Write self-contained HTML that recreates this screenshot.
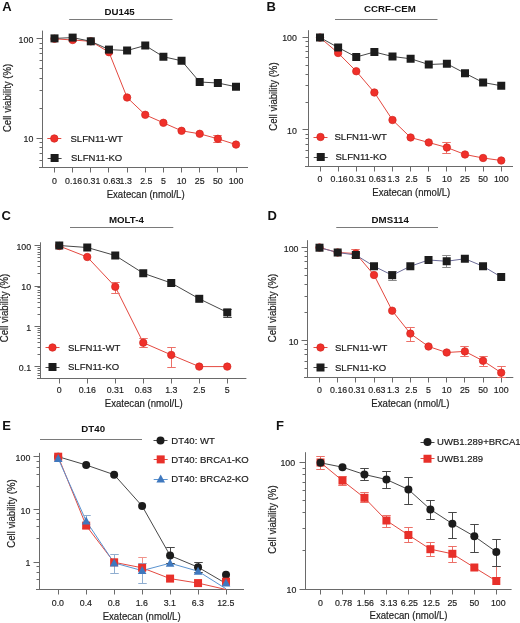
<!DOCTYPE html>
<html><head><meta charset="utf-8"><style>
html,body{margin:0;padding:0;background:#fff;}
svg{display:block;font-family:"Liberation Sans",sans-serif;filter:blur(0.35px);}
</style></head><body>
<svg width="520" height="623" viewBox="0 0 520 623">
<rect width="520" height="623" fill="#fff"/>
<text x="0" y="0" transform="translate(2.30,11.20) scale(1.000,1)" font-size="13.00" text-anchor="start" font-weight="bold" fill="#111" >A</text>
<text x="0" y="0" transform="translate(119.60,15.00) scale(1.000,1)" font-size="9.70" text-anchor="middle" font-weight="bold" fill="#111" >DU145</text>
<line x1="69.20" y1="19.50" x2="172.50" y2="19.50" stroke="#7a7a7a" stroke-width="1"/>
<line x1="42.50" y1="30.60" x2="42.50" y2="168.00" stroke="#6a6a6a" stroke-width="1"/>
<line x1="39.00" y1="167.50" x2="248.00" y2="167.50" stroke="#6a6a6a" stroke-width="1"/>
<line x1="36.50" y1="38.50" x2="42.50" y2="38.50" stroke="#6a6a6a" stroke-width="1"/>
<text x="0" y="0" transform="translate(33.30,42.81) scale(0.955,1)" font-size="9.24" text-anchor="end" fill="#1e1e1e" stroke="#1e1e1e" stroke-width="0.18" >100</text>
<line x1="36.50" y1="138.50" x2="42.50" y2="138.50" stroke="#6a6a6a" stroke-width="1"/>
<text x="0" y="0" transform="translate(33.30,142.31) scale(0.955,1)" font-size="9.24" text-anchor="end" fill="#1e1e1e" stroke="#1e1e1e" stroke-width="0.18" >10</text>
<line x1="39.50" y1="108.50" x2="42.50" y2="108.50" stroke="#6a6a6a" stroke-width="1"/>
<line x1="39.50" y1="90.50" x2="42.50" y2="90.50" stroke="#6a6a6a" stroke-width="1"/>
<line x1="39.50" y1="78.50" x2="42.50" y2="78.50" stroke="#6a6a6a" stroke-width="1"/>
<line x1="39.50" y1="68.50" x2="42.50" y2="68.50" stroke="#6a6a6a" stroke-width="1"/>
<line x1="39.50" y1="60.50" x2="42.50" y2="60.50" stroke="#6a6a6a" stroke-width="1"/>
<line x1="39.50" y1="53.50" x2="42.50" y2="53.50" stroke="#6a6a6a" stroke-width="1"/>
<line x1="39.50" y1="48.50" x2="42.50" y2="48.50" stroke="#6a6a6a" stroke-width="1"/>
<line x1="39.50" y1="43.50" x2="42.50" y2="43.50" stroke="#6a6a6a" stroke-width="1"/>
<line x1="39.50" y1="160.50" x2="42.50" y2="160.50" stroke="#6a6a6a" stroke-width="1"/>
<line x1="39.50" y1="153.50" x2="42.50" y2="153.50" stroke="#6a6a6a" stroke-width="1"/>
<line x1="39.50" y1="147.50" x2="42.50" y2="147.50" stroke="#6a6a6a" stroke-width="1"/>
<line x1="39.50" y1="142.50" x2="42.50" y2="142.50" stroke="#6a6a6a" stroke-width="1"/>
<line x1="54.50" y1="167.50" x2="54.50" y2="172.50" stroke="#6a6a6a" stroke-width="1"/>
<text x="0" y="0" transform="translate(54.50,183.76) scale(0.955,1)" font-size="9.24" text-anchor="middle" fill="#1e1e1e" stroke="#1e1e1e" stroke-width="0.18" >0</text>
<line x1="72.50" y1="167.50" x2="72.50" y2="172.50" stroke="#6a6a6a" stroke-width="1"/>
<text x="0" y="0" transform="translate(73.65,183.76) scale(0.955,1)" font-size="9.24" text-anchor="middle" fill="#1e1e1e" stroke="#1e1e1e" stroke-width="0.18" >0.16</text>
<line x1="90.50" y1="167.50" x2="90.50" y2="172.50" stroke="#6a6a6a" stroke-width="1"/>
<text x="0" y="0" transform="translate(91.80,183.76) scale(0.955,1)" font-size="9.24" text-anchor="middle" fill="#1e1e1e" stroke="#1e1e1e" stroke-width="0.18" >0.31</text>
<line x1="108.50" y1="167.50" x2="108.50" y2="172.50" stroke="#6a6a6a" stroke-width="1"/>
<text x="0" y="0" transform="translate(111.85,183.76) scale(0.955,1)" font-size="9.24" text-anchor="middle" fill="#1e1e1e" stroke="#1e1e1e" stroke-width="0.18" >0.63</text>
<line x1="127.50" y1="167.50" x2="127.50" y2="172.50" stroke="#6a6a6a" stroke-width="1"/>
<text x="0" y="0" transform="translate(125.70,183.76) scale(0.955,1)" font-size="9.24" text-anchor="middle" fill="#1e1e1e" stroke="#1e1e1e" stroke-width="0.18" >1.3</text>
<line x1="145.50" y1="167.50" x2="145.50" y2="172.50" stroke="#6a6a6a" stroke-width="1"/>
<text x="0" y="0" transform="translate(146.25,183.76) scale(0.955,1)" font-size="9.24" text-anchor="middle" fill="#1e1e1e" stroke="#1e1e1e" stroke-width="0.18" >2.5</text>
<line x1="163.50" y1="167.50" x2="163.50" y2="172.50" stroke="#6a6a6a" stroke-width="1"/>
<text x="0" y="0" transform="translate(163.40,183.76) scale(0.955,1)" font-size="9.24" text-anchor="middle" fill="#1e1e1e" stroke="#1e1e1e" stroke-width="0.18" >5</text>
<line x1="181.50" y1="167.50" x2="181.50" y2="172.50" stroke="#6a6a6a" stroke-width="1"/>
<text x="0" y="0" transform="translate(181.55,183.76) scale(0.955,1)" font-size="9.24" text-anchor="middle" fill="#1e1e1e" stroke="#1e1e1e" stroke-width="0.18" >10</text>
<line x1="199.50" y1="167.50" x2="199.50" y2="172.50" stroke="#6a6a6a" stroke-width="1"/>
<text x="0" y="0" transform="translate(199.70,183.76) scale(0.955,1)" font-size="9.24" text-anchor="middle" fill="#1e1e1e" stroke="#1e1e1e" stroke-width="0.18" >25</text>
<line x1="217.50" y1="167.50" x2="217.50" y2="172.50" stroke="#6a6a6a" stroke-width="1"/>
<text x="0" y="0" transform="translate(217.85,183.76) scale(0.955,1)" font-size="9.24" text-anchor="middle" fill="#1e1e1e" stroke="#1e1e1e" stroke-width="0.18" >50</text>
<line x1="236.50" y1="167.50" x2="236.50" y2="172.50" stroke="#6a6a6a" stroke-width="1"/>
<text x="0" y="0" transform="translate(236.00,183.76) scale(0.955,1)" font-size="9.24" text-anchor="middle" fill="#1e1e1e" stroke="#1e1e1e" stroke-width="0.18" >100</text>
<text x="0" y="0" transform="translate(145.65,198.49) scale(0.955,1)" font-size="10.08" text-anchor="middle" fill="#1e1e1e" stroke="#1e1e1e" stroke-width="0.18" >Exatecan (nmol/L)</text>
<text x="0" y="0" transform="translate(10.83,97.90) rotate(-90) scale(0.955,1)" font-size="10.08" text-anchor="middle" fill="#1e1e1e" stroke="#1e1e1e" stroke-width="0.18" >Cell viability (%)</text>
<polyline points="54.50,38.80 72.65,40.00 90.80,41.30 108.95,52.20 127.10,97.50 145.25,114.80 163.40,122.80 181.55,130.80 199.70,133.80 217.85,138.80 236.00,144.60" fill="none" stroke="#e4483f" stroke-width="1"/>
<polyline points="54.50,38.40 72.65,37.60 90.80,41.30 108.95,49.60 127.10,50.50 145.25,45.50 163.40,56.75 181.55,60.75 199.70,82.00 217.85,83.00 236.00,86.75" fill="none" stroke="#474747" stroke-width="1"/>
<line x1="217.50" y1="135.50" x2="217.50" y2="142.50" stroke="#ec7068" stroke-width="1"/>
<line x1="213.25" y1="135.50" x2="221.75" y2="135.50" stroke="#ec7068" stroke-width="1"/>
<line x1="213.25" y1="142.50" x2="221.75" y2="142.50" stroke="#ec7068" stroke-width="1"/>
<circle cx="54.50" cy="38.80" r="3.73" fill="#f0302a" stroke="#d2261f" stroke-width="0.7"/>
<circle cx="72.65" cy="40.00" r="3.73" fill="#f0302a" stroke="#d2261f" stroke-width="0.7"/>
<circle cx="90.80" cy="41.30" r="3.73" fill="#f0302a" stroke="#d2261f" stroke-width="0.7"/>
<circle cx="108.95" cy="52.20" r="3.73" fill="#f0302a" stroke="#d2261f" stroke-width="0.7"/>
<circle cx="127.10" cy="97.50" r="3.73" fill="#f0302a" stroke="#d2261f" stroke-width="0.7"/>
<circle cx="145.25" cy="114.80" r="3.73" fill="#f0302a" stroke="#d2261f" stroke-width="0.7"/>
<circle cx="163.40" cy="122.80" r="3.73" fill="#f0302a" stroke="#d2261f" stroke-width="0.7"/>
<circle cx="181.55" cy="130.80" r="3.73" fill="#f0302a" stroke="#d2261f" stroke-width="0.7"/>
<circle cx="199.70" cy="133.80" r="3.73" fill="#f0302a" stroke="#d2261f" stroke-width="0.7"/>
<circle cx="217.85" cy="138.80" r="3.73" fill="#f0302a" stroke="#d2261f" stroke-width="0.7"/>
<circle cx="236.00" cy="144.60" r="3.73" fill="#f0302a" stroke="#d2261f" stroke-width="0.7"/>
<rect x="50.50" y="34.40" width="8" height="8" fill="#1c1c1c"/>
<rect x="68.65" y="33.60" width="8" height="8" fill="#1c1c1c"/>
<rect x="86.80" y="37.30" width="8" height="8" fill="#1c1c1c"/>
<rect x="104.95" y="45.60" width="8" height="8" fill="#1c1c1c"/>
<rect x="123.10" y="46.50" width="8" height="8" fill="#1c1c1c"/>
<rect x="141.25" y="41.50" width="8" height="8" fill="#1c1c1c"/>
<rect x="159.40" y="52.75" width="8" height="8" fill="#1c1c1c"/>
<rect x="177.55" y="56.75" width="8" height="8" fill="#1c1c1c"/>
<rect x="195.70" y="78.00" width="8" height="8" fill="#1c1c1c"/>
<rect x="213.85" y="79.00" width="8" height="8" fill="#1c1c1c"/>
<rect x="232.00" y="82.75" width="8" height="8" fill="#1c1c1c"/>
<line x1="47.30" y1="138.50" x2="61.30" y2="138.50" stroke="#e4483f" stroke-width="1"/>
<circle cx="54.30" cy="138.50" r="3.73" fill="#f0302a" stroke="#d2261f" stroke-width="0.7"/>
<text x="0" y="0" transform="translate(70.50,141.80) scale(1.000,1)" font-size="9.55" text-anchor="start" fill="#1a1a1a" stroke="#1a1a1a" stroke-width="0.18" >SLFN11-WT</text>
<line x1="47.60" y1="158.50" x2="61.60" y2="158.50" stroke="#474747" stroke-width="1"/>
<rect x="50.60" y="154.00" width="8" height="8" fill="#1c1c1c"/>
<text x="0" y="0" transform="translate(71.00,161.30) scale(1.000,1)" font-size="9.55" text-anchor="start" fill="#1a1a1a" stroke="#1a1a1a" stroke-width="0.18" >SLFN11-KO</text>
<text x="0" y="0" transform="translate(266.60,11.00) scale(1.000,1)" font-size="13.00" text-anchor="start" font-weight="bold" fill="#111" >B</text>
<text x="0" y="0" transform="translate(389.90,11.90) scale(1.000,1)" font-size="9.70" text-anchor="middle" font-weight="bold" fill="#111" >CCRF-CEM</text>
<line x1="335.00" y1="19.50" x2="437.50" y2="19.50" stroke="#7a7a7a" stroke-width="1"/>
<line x1="308.50" y1="30.20" x2="308.50" y2="167.00" stroke="#6a6a6a" stroke-width="1"/>
<line x1="305.00" y1="166.50" x2="513.00" y2="166.50" stroke="#6a6a6a" stroke-width="1"/>
<line x1="302.50" y1="37.50" x2="308.50" y2="37.50" stroke="#6a6a6a" stroke-width="1"/>
<text x="0" y="0" transform="translate(296.90,41.01) scale(0.955,1)" font-size="9.24" text-anchor="end" fill="#1e1e1e" stroke="#1e1e1e" stroke-width="0.18" >100</text>
<line x1="302.50" y1="129.50" x2="308.50" y2="129.50" stroke="#6a6a6a" stroke-width="1"/>
<text x="0" y="0" transform="translate(296.90,134.11) scale(0.955,1)" font-size="9.24" text-anchor="end" fill="#1e1e1e" stroke="#1e1e1e" stroke-width="0.18" >10</text>
<line x1="305.50" y1="102.50" x2="308.50" y2="102.50" stroke="#6a6a6a" stroke-width="1"/>
<line x1="305.50" y1="85.50" x2="308.50" y2="85.50" stroke="#6a6a6a" stroke-width="1"/>
<line x1="305.50" y1="74.50" x2="308.50" y2="74.50" stroke="#6a6a6a" stroke-width="1"/>
<line x1="305.50" y1="65.50" x2="308.50" y2="65.50" stroke="#6a6a6a" stroke-width="1"/>
<line x1="305.50" y1="57.50" x2="308.50" y2="57.50" stroke="#6a6a6a" stroke-width="1"/>
<line x1="305.50" y1="51.50" x2="308.50" y2="51.50" stroke="#6a6a6a" stroke-width="1"/>
<line x1="305.50" y1="46.50" x2="308.50" y2="46.50" stroke="#6a6a6a" stroke-width="1"/>
<line x1="305.50" y1="41.50" x2="308.50" y2="41.50" stroke="#6a6a6a" stroke-width="1"/>
<line x1="305.50" y1="157.50" x2="308.50" y2="157.50" stroke="#6a6a6a" stroke-width="1"/>
<line x1="305.50" y1="150.50" x2="308.50" y2="150.50" stroke="#6a6a6a" stroke-width="1"/>
<line x1="305.50" y1="144.50" x2="308.50" y2="144.50" stroke="#6a6a6a" stroke-width="1"/>
<line x1="305.50" y1="138.50" x2="308.50" y2="138.50" stroke="#6a6a6a" stroke-width="1"/>
<line x1="305.50" y1="134.50" x2="308.50" y2="134.50" stroke="#6a6a6a" stroke-width="1"/>
<line x1="320.50" y1="166.50" x2="320.50" y2="171.50" stroke="#6a6a6a" stroke-width="1"/>
<text x="0" y="0" transform="translate(320.00,181.56) scale(0.955,1)" font-size="9.24" text-anchor="middle" fill="#1e1e1e" stroke="#1e1e1e" stroke-width="0.18" >0</text>
<line x1="338.50" y1="166.50" x2="338.50" y2="171.50" stroke="#6a6a6a" stroke-width="1"/>
<text x="0" y="0" transform="translate(339.12,181.56) scale(0.955,1)" font-size="9.24" text-anchor="middle" fill="#1e1e1e" stroke="#1e1e1e" stroke-width="0.18" >0.16</text>
<line x1="356.50" y1="166.50" x2="356.50" y2="171.50" stroke="#6a6a6a" stroke-width="1"/>
<text x="0" y="0" transform="translate(357.25,181.56) scale(0.955,1)" font-size="9.24" text-anchor="middle" fill="#1e1e1e" stroke="#1e1e1e" stroke-width="0.18" >0.31</text>
<line x1="374.50" y1="166.50" x2="374.50" y2="171.50" stroke="#6a6a6a" stroke-width="1"/>
<text x="0" y="0" transform="translate(377.27,181.56) scale(0.955,1)" font-size="9.24" text-anchor="middle" fill="#1e1e1e" stroke="#1e1e1e" stroke-width="0.18" >0.63</text>
<line x1="392.50" y1="166.50" x2="392.50" y2="171.50" stroke="#6a6a6a" stroke-width="1"/>
<text x="0" y="0" transform="translate(393.50,181.56) scale(0.955,1)" font-size="9.24" text-anchor="middle" fill="#1e1e1e" stroke="#1e1e1e" stroke-width="0.18" >1.3</text>
<line x1="410.50" y1="166.50" x2="410.50" y2="171.50" stroke="#6a6a6a" stroke-width="1"/>
<text x="0" y="0" transform="translate(411.62,181.56) scale(0.955,1)" font-size="9.24" text-anchor="middle" fill="#1e1e1e" stroke="#1e1e1e" stroke-width="0.18" >2.5</text>
<line x1="428.50" y1="166.50" x2="428.50" y2="171.50" stroke="#6a6a6a" stroke-width="1"/>
<text x="0" y="0" transform="translate(428.75,181.56) scale(0.955,1)" font-size="9.24" text-anchor="middle" fill="#1e1e1e" stroke="#1e1e1e" stroke-width="0.18" >5</text>
<line x1="446.50" y1="166.50" x2="446.50" y2="171.50" stroke="#6a6a6a" stroke-width="1"/>
<text x="0" y="0" transform="translate(446.88,181.56) scale(0.955,1)" font-size="9.24" text-anchor="middle" fill="#1e1e1e" stroke="#1e1e1e" stroke-width="0.18" >10</text>
<line x1="465.50" y1="166.50" x2="465.50" y2="171.50" stroke="#6a6a6a" stroke-width="1"/>
<text x="0" y="0" transform="translate(465.00,181.56) scale(0.955,1)" font-size="9.24" text-anchor="middle" fill="#1e1e1e" stroke="#1e1e1e" stroke-width="0.18" >25</text>
<line x1="483.50" y1="166.50" x2="483.50" y2="171.50" stroke="#6a6a6a" stroke-width="1"/>
<text x="0" y="0" transform="translate(483.12,181.56) scale(0.955,1)" font-size="9.24" text-anchor="middle" fill="#1e1e1e" stroke="#1e1e1e" stroke-width="0.18" >50</text>
<line x1="501.50" y1="166.50" x2="501.50" y2="171.50" stroke="#6a6a6a" stroke-width="1"/>
<text x="0" y="0" transform="translate(501.25,181.56) scale(0.955,1)" font-size="9.24" text-anchor="middle" fill="#1e1e1e" stroke="#1e1e1e" stroke-width="0.18" >100</text>
<text x="0" y="0" transform="translate(411.25,195.59) scale(0.955,1)" font-size="10.08" text-anchor="middle" fill="#1e1e1e" stroke="#1e1e1e" stroke-width="0.18" >Exatecan (nmol/L)</text>
<text x="0" y="0" transform="translate(276.63,96.60) rotate(-90) scale(0.955,1)" font-size="10.08" text-anchor="middle" fill="#1e1e1e" stroke="#1e1e1e" stroke-width="0.18" >Cell viability (%)</text>
<polyline points="320.00,37.60 338.12,53.00 356.25,71.25 374.38,92.50 392.50,120.00 410.62,137.50 428.75,142.50 446.88,147.50 465.00,154.50 483.12,158.00 501.25,160.50" fill="none" stroke="#e4483f" stroke-width="1"/>
<polyline points="320.00,37.50 338.12,47.50 356.25,57.00 374.38,52.00 392.50,56.50 410.62,58.75 428.75,64.50 446.88,63.75 465.00,73.25 483.12,82.50 501.25,85.75" fill="none" stroke="#474747" stroke-width="1"/>
<line x1="446.50" y1="142.50" x2="446.50" y2="153.50" stroke="#ec7068" stroke-width="1"/>
<line x1="442.25" y1="142.50" x2="450.75" y2="142.50" stroke="#ec7068" stroke-width="1"/>
<line x1="442.25" y1="153.50" x2="450.75" y2="153.50" stroke="#ec7068" stroke-width="1"/>
<circle cx="320.00" cy="37.60" r="3.73" fill="#f0302a" stroke="#d2261f" stroke-width="0.7"/>
<circle cx="338.12" cy="53.00" r="3.73" fill="#f0302a" stroke="#d2261f" stroke-width="0.7"/>
<circle cx="356.25" cy="71.25" r="3.73" fill="#f0302a" stroke="#d2261f" stroke-width="0.7"/>
<circle cx="374.38" cy="92.50" r="3.73" fill="#f0302a" stroke="#d2261f" stroke-width="0.7"/>
<circle cx="392.50" cy="120.00" r="3.73" fill="#f0302a" stroke="#d2261f" stroke-width="0.7"/>
<circle cx="410.62" cy="137.50" r="3.73" fill="#f0302a" stroke="#d2261f" stroke-width="0.7"/>
<circle cx="428.75" cy="142.50" r="3.73" fill="#f0302a" stroke="#d2261f" stroke-width="0.7"/>
<circle cx="446.88" cy="147.50" r="3.73" fill="#f0302a" stroke="#d2261f" stroke-width="0.7"/>
<circle cx="465.00" cy="154.50" r="3.73" fill="#f0302a" stroke="#d2261f" stroke-width="0.7"/>
<circle cx="483.12" cy="158.00" r="3.73" fill="#f0302a" stroke="#d2261f" stroke-width="0.7"/>
<circle cx="501.25" cy="160.50" r="3.73" fill="#f0302a" stroke="#d2261f" stroke-width="0.7"/>
<rect x="316.00" y="33.50" width="8" height="8" fill="#1c1c1c"/>
<rect x="334.12" y="43.50" width="8" height="8" fill="#1c1c1c"/>
<rect x="352.25" y="53.00" width="8" height="8" fill="#1c1c1c"/>
<rect x="370.38" y="48.00" width="8" height="8" fill="#1c1c1c"/>
<rect x="388.50" y="52.50" width="8" height="8" fill="#1c1c1c"/>
<rect x="406.62" y="54.75" width="8" height="8" fill="#1c1c1c"/>
<rect x="424.75" y="60.50" width="8" height="8" fill="#1c1c1c"/>
<rect x="442.88" y="59.75" width="8" height="8" fill="#1c1c1c"/>
<rect x="461.00" y="69.25" width="8" height="8" fill="#1c1c1c"/>
<rect x="479.12" y="78.50" width="8" height="8" fill="#1c1c1c"/>
<rect x="497.25" y="81.75" width="8" height="8" fill="#1c1c1c"/>
<line x1="313.50" y1="137.50" x2="327.50" y2="137.50" stroke="#e4483f" stroke-width="1"/>
<circle cx="320.50" cy="137.00" r="3.73" fill="#f0302a" stroke="#d2261f" stroke-width="0.7"/>
<text x="0" y="0" transform="translate(334.50,140.30) scale(1.000,1)" font-size="9.55" text-anchor="start" fill="#1a1a1a" stroke="#1a1a1a" stroke-width="0.18" >SLFN11-WT</text>
<line x1="313.75" y1="157.50" x2="327.75" y2="157.50" stroke="#474747" stroke-width="1"/>
<rect x="316.75" y="153.00" width="8" height="8" fill="#1c1c1c"/>
<text x="0" y="0" transform="translate(335.50,160.30) scale(1.000,1)" font-size="9.55" text-anchor="start" fill="#1a1a1a" stroke="#1a1a1a" stroke-width="0.18" >SLFN11-KO</text>
<text x="0" y="0" transform="translate(1.60,220.40) scale(1.000,1)" font-size="13.00" text-anchor="start" font-weight="bold" fill="#111" >C</text>
<text x="0" y="0" transform="translate(126.40,223.10) scale(1.000,1)" font-size="9.70" text-anchor="middle" font-weight="bold" fill="#111" >MOLT-4</text>
<line x1="70.00" y1="227.50" x2="173.30" y2="227.50" stroke="#7a7a7a" stroke-width="1"/>
<line x1="40.50" y1="242.30" x2="40.50" y2="379.00" stroke="#6a6a6a" stroke-width="1"/>
<line x1="37.00" y1="378.50" x2="246.40" y2="378.50" stroke="#6a6a6a" stroke-width="1"/>
<line x1="34.50" y1="245.50" x2="40.50" y2="245.50" stroke="#6a6a6a" stroke-width="1"/>
<text x="0" y="0" transform="translate(31.10,250.06) scale(0.955,1)" font-size="9.24" text-anchor="end" fill="#1e1e1e" stroke="#1e1e1e" stroke-width="0.18" >100</text>
<line x1="34.50" y1="286.50" x2="40.50" y2="286.50" stroke="#6a6a6a" stroke-width="1"/>
<text x="0" y="0" transform="translate(31.10,290.46) scale(0.955,1)" font-size="9.24" text-anchor="end" fill="#1e1e1e" stroke="#1e1e1e" stroke-width="0.18" >10</text>
<line x1="34.50" y1="326.50" x2="40.50" y2="326.50" stroke="#6a6a6a" stroke-width="1"/>
<text x="0" y="0" transform="translate(31.10,330.86) scale(0.955,1)" font-size="9.24" text-anchor="end" fill="#1e1e1e" stroke="#1e1e1e" stroke-width="0.18" >1</text>
<line x1="34.50" y1="366.50" x2="40.50" y2="366.50" stroke="#6a6a6a" stroke-width="1"/>
<text x="0" y="0" transform="translate(31.10,371.26) scale(0.955,1)" font-size="9.24" text-anchor="end" fill="#1e1e1e" stroke="#1e1e1e" stroke-width="0.18" >0.1</text>
<line x1="37.50" y1="273.50" x2="40.50" y2="273.50" stroke="#6a6a6a" stroke-width="1"/>
<line x1="37.50" y1="266.50" x2="40.50" y2="266.50" stroke="#6a6a6a" stroke-width="1"/>
<line x1="37.50" y1="261.50" x2="40.50" y2="261.50" stroke="#6a6a6a" stroke-width="1"/>
<line x1="37.50" y1="257.50" x2="40.50" y2="257.50" stroke="#6a6a6a" stroke-width="1"/>
<line x1="37.50" y1="254.50" x2="40.50" y2="254.50" stroke="#6a6a6a" stroke-width="1"/>
<line x1="37.50" y1="252.50" x2="40.50" y2="252.50" stroke="#6a6a6a" stroke-width="1"/>
<line x1="37.50" y1="249.50" x2="40.50" y2="249.50" stroke="#6a6a6a" stroke-width="1"/>
<line x1="37.50" y1="247.50" x2="40.50" y2="247.50" stroke="#6a6a6a" stroke-width="1"/>
<line x1="37.50" y1="314.50" x2="40.50" y2="314.50" stroke="#6a6a6a" stroke-width="1"/>
<line x1="37.50" y1="307.50" x2="40.50" y2="307.50" stroke="#6a6a6a" stroke-width="1"/>
<line x1="37.50" y1="302.50" x2="40.50" y2="302.50" stroke="#6a6a6a" stroke-width="1"/>
<line x1="37.50" y1="298.50" x2="40.50" y2="298.50" stroke="#6a6a6a" stroke-width="1"/>
<line x1="37.50" y1="295.50" x2="40.50" y2="295.50" stroke="#6a6a6a" stroke-width="1"/>
<line x1="37.50" y1="292.50" x2="40.50" y2="292.50" stroke="#6a6a6a" stroke-width="1"/>
<line x1="37.50" y1="290.50" x2="40.50" y2="290.50" stroke="#6a6a6a" stroke-width="1"/>
<line x1="37.50" y1="287.50" x2="40.50" y2="287.50" stroke="#6a6a6a" stroke-width="1"/>
<line x1="37.50" y1="354.50" x2="40.50" y2="354.50" stroke="#6a6a6a" stroke-width="1"/>
<line x1="37.50" y1="347.50" x2="40.50" y2="347.50" stroke="#6a6a6a" stroke-width="1"/>
<line x1="37.50" y1="342.50" x2="40.50" y2="342.50" stroke="#6a6a6a" stroke-width="1"/>
<line x1="37.50" y1="338.50" x2="40.50" y2="338.50" stroke="#6a6a6a" stroke-width="1"/>
<line x1="37.50" y1="335.50" x2="40.50" y2="335.50" stroke="#6a6a6a" stroke-width="1"/>
<line x1="37.50" y1="332.50" x2="40.50" y2="332.50" stroke="#6a6a6a" stroke-width="1"/>
<line x1="37.50" y1="330.50" x2="40.50" y2="330.50" stroke="#6a6a6a" stroke-width="1"/>
<line x1="37.50" y1="328.50" x2="40.50" y2="328.50" stroke="#6a6a6a" stroke-width="1"/>
<line x1="37.50" y1="375.50" x2="40.50" y2="375.50" stroke="#6a6a6a" stroke-width="1"/>
<line x1="37.50" y1="373.50" x2="40.50" y2="373.50" stroke="#6a6a6a" stroke-width="1"/>
<line x1="37.50" y1="370.50" x2="40.50" y2="370.50" stroke="#6a6a6a" stroke-width="1"/>
<line x1="37.50" y1="368.50" x2="40.50" y2="368.50" stroke="#6a6a6a" stroke-width="1"/>
<line x1="59.50" y1="378.50" x2="59.50" y2="383.50" stroke="#6a6a6a" stroke-width="1"/>
<text x="0" y="0" transform="translate(59.25,392.66) scale(0.955,1)" font-size="9.24" text-anchor="middle" fill="#1e1e1e" stroke="#1e1e1e" stroke-width="0.18" >0</text>
<line x1="87.50" y1="378.50" x2="87.50" y2="383.50" stroke="#6a6a6a" stroke-width="1"/>
<text x="0" y="0" transform="translate(87.25,392.66) scale(0.955,1)" font-size="9.24" text-anchor="middle" fill="#1e1e1e" stroke="#1e1e1e" stroke-width="0.18" >0.16</text>
<line x1="115.50" y1="378.50" x2="115.50" y2="383.50" stroke="#6a6a6a" stroke-width="1"/>
<text x="0" y="0" transform="translate(115.25,392.66) scale(0.955,1)" font-size="9.24" text-anchor="middle" fill="#1e1e1e" stroke="#1e1e1e" stroke-width="0.18" >0.31</text>
<line x1="143.50" y1="378.50" x2="143.50" y2="383.50" stroke="#6a6a6a" stroke-width="1"/>
<text x="0" y="0" transform="translate(143.25,392.66) scale(0.955,1)" font-size="9.24" text-anchor="middle" fill="#1e1e1e" stroke="#1e1e1e" stroke-width="0.18" >0.63</text>
<line x1="171.50" y1="378.50" x2="171.50" y2="383.50" stroke="#6a6a6a" stroke-width="1"/>
<text x="0" y="0" transform="translate(171.25,392.66) scale(0.955,1)" font-size="9.24" text-anchor="middle" fill="#1e1e1e" stroke="#1e1e1e" stroke-width="0.18" >1.3</text>
<line x1="199.50" y1="378.50" x2="199.50" y2="383.50" stroke="#6a6a6a" stroke-width="1"/>
<text x="0" y="0" transform="translate(199.25,392.66) scale(0.955,1)" font-size="9.24" text-anchor="middle" fill="#1e1e1e" stroke="#1e1e1e" stroke-width="0.18" >2.5</text>
<line x1="227.50" y1="378.50" x2="227.50" y2="383.50" stroke="#6a6a6a" stroke-width="1"/>
<text x="0" y="0" transform="translate(227.25,392.66) scale(0.955,1)" font-size="9.24" text-anchor="middle" fill="#1e1e1e" stroke="#1e1e1e" stroke-width="0.18" >5</text>
<text x="0" y="0" transform="translate(143.75,406.89) scale(0.955,1)" font-size="10.08" text-anchor="middle" fill="#1e1e1e" stroke="#1e1e1e" stroke-width="0.18" >Exatecan (nmol/L)</text>
<text x="0" y="0" transform="translate(7.93,308.00) rotate(-90) scale(0.955,1)" font-size="10.08" text-anchor="middle" fill="#1e1e1e" stroke="#1e1e1e" stroke-width="0.18" >Cell viability (%)</text>
<polyline points="59.25,246.00 87.25,257.00 115.25,286.75 143.25,342.70 171.25,354.90 199.25,366.60 227.25,366.60" fill="none" stroke="#e4483f" stroke-width="1"/>
<polyline points="59.25,245.50 87.25,247.50 115.25,255.50 143.25,273.25 171.25,283.00 199.25,298.80 227.25,312.40" fill="none" stroke="#474747" stroke-width="1"/>
<line x1="115.50" y1="282.50" x2="115.50" y2="293.50" stroke="#ec7068" stroke-width="1"/>
<line x1="111.25" y1="282.50" x2="119.75" y2="282.50" stroke="#ec7068" stroke-width="1"/>
<line x1="111.25" y1="293.50" x2="119.75" y2="293.50" stroke="#ec7068" stroke-width="1"/>
<line x1="143.50" y1="338.50" x2="143.50" y2="347.50" stroke="#ec7068" stroke-width="1"/>
<line x1="139.25" y1="338.50" x2="147.75" y2="338.50" stroke="#ec7068" stroke-width="1"/>
<line x1="139.25" y1="347.50" x2="147.75" y2="347.50" stroke="#ec7068" stroke-width="1"/>
<line x1="171.50" y1="347.50" x2="171.50" y2="367.50" stroke="#ec7068" stroke-width="1"/>
<line x1="167.25" y1="347.50" x2="175.75" y2="347.50" stroke="#ec7068" stroke-width="1"/>
<line x1="167.25" y1="367.50" x2="175.75" y2="367.50" stroke="#ec7068" stroke-width="1"/>
<line x1="227.50" y1="309.50" x2="227.50" y2="317.50" stroke="#474747" stroke-width="1"/>
<line x1="223.25" y1="309.50" x2="231.75" y2="309.50" stroke="#474747" stroke-width="1"/>
<line x1="223.25" y1="317.50" x2="231.75" y2="317.50" stroke="#474747" stroke-width="1"/>
<circle cx="59.25" cy="246.00" r="3.73" fill="#f0302a" stroke="#d2261f" stroke-width="0.7"/>
<circle cx="87.25" cy="257.00" r="3.73" fill="#f0302a" stroke="#d2261f" stroke-width="0.7"/>
<circle cx="115.25" cy="286.75" r="3.73" fill="#f0302a" stroke="#d2261f" stroke-width="0.7"/>
<circle cx="143.25" cy="342.70" r="3.73" fill="#f0302a" stroke="#d2261f" stroke-width="0.7"/>
<circle cx="171.25" cy="354.90" r="3.73" fill="#f0302a" stroke="#d2261f" stroke-width="0.7"/>
<circle cx="199.25" cy="366.60" r="3.73" fill="#f0302a" stroke="#d2261f" stroke-width="0.7"/>
<circle cx="227.25" cy="366.60" r="3.73" fill="#f0302a" stroke="#d2261f" stroke-width="0.7"/>
<rect x="55.25" y="241.50" width="8" height="8" fill="#1c1c1c"/>
<rect x="83.25" y="243.50" width="8" height="8" fill="#1c1c1c"/>
<rect x="111.25" y="251.50" width="8" height="8" fill="#1c1c1c"/>
<rect x="139.25" y="269.25" width="8" height="8" fill="#1c1c1c"/>
<rect x="167.25" y="279.00" width="8" height="8" fill="#1c1c1c"/>
<rect x="195.25" y="294.80" width="8" height="8" fill="#1c1c1c"/>
<rect x="223.25" y="308.40" width="8" height="8" fill="#1c1c1c"/>
<line x1="45.50" y1="347.50" x2="59.50" y2="347.50" stroke="#e4483f" stroke-width="1"/>
<circle cx="52.50" cy="347.50" r="3.73" fill="#f0302a" stroke="#d2261f" stroke-width="0.7"/>
<text x="0" y="0" transform="translate(68.00,350.80) scale(1.000,1)" font-size="9.55" text-anchor="start" fill="#1a1a1a" stroke="#1a1a1a" stroke-width="0.18" >SLFN11-WT</text>
<line x1="45.50" y1="367.50" x2="59.50" y2="367.50" stroke="#474747" stroke-width="1"/>
<rect x="48.50" y="363.00" width="8" height="8" fill="#1c1c1c"/>
<text x="0" y="0" transform="translate(68.00,370.30) scale(1.000,1)" font-size="9.55" text-anchor="start" fill="#1a1a1a" stroke="#1a1a1a" stroke-width="0.18" >SLFN11-KO</text>
<text x="0" y="0" transform="translate(267.50,220.30) scale(1.000,1)" font-size="13.00" text-anchor="start" font-weight="bold" fill="#111" >D</text>
<text x="0" y="0" transform="translate(390.20,223.10) scale(1.000,1)" font-size="9.70" text-anchor="middle" font-weight="bold" fill="#111" >DMS114</text>
<line x1="336.25" y1="227.50" x2="438.00" y2="227.50" stroke="#7a7a7a" stroke-width="1"/>
<line x1="307.50" y1="240.20" x2="307.50" y2="378.00" stroke="#6a6a6a" stroke-width="1"/>
<line x1="304.00" y1="377.50" x2="513.30" y2="377.50" stroke="#6a6a6a" stroke-width="1"/>
<line x1="301.50" y1="247.50" x2="307.50" y2="247.50" stroke="#6a6a6a" stroke-width="1"/>
<text x="0" y="0" transform="translate(298.50,251.81) scale(0.955,1)" font-size="9.24" text-anchor="end" fill="#1e1e1e" stroke="#1e1e1e" stroke-width="0.18" >100</text>
<line x1="301.50" y1="340.50" x2="307.50" y2="340.50" stroke="#6a6a6a" stroke-width="1"/>
<text x="0" y="0" transform="translate(298.50,344.81) scale(0.955,1)" font-size="9.24" text-anchor="end" fill="#1e1e1e" stroke="#1e1e1e" stroke-width="0.18" >10</text>
<line x1="304.50" y1="312.50" x2="307.50" y2="312.50" stroke="#6a6a6a" stroke-width="1"/>
<line x1="304.50" y1="296.50" x2="307.50" y2="296.50" stroke="#6a6a6a" stroke-width="1"/>
<line x1="304.50" y1="284.50" x2="307.50" y2="284.50" stroke="#6a6a6a" stroke-width="1"/>
<line x1="304.50" y1="275.50" x2="307.50" y2="275.50" stroke="#6a6a6a" stroke-width="1"/>
<line x1="304.50" y1="268.50" x2="307.50" y2="268.50" stroke="#6a6a6a" stroke-width="1"/>
<line x1="304.50" y1="261.50" x2="307.50" y2="261.50" stroke="#6a6a6a" stroke-width="1"/>
<line x1="304.50" y1="256.50" x2="307.50" y2="256.50" stroke="#6a6a6a" stroke-width="1"/>
<line x1="304.50" y1="251.50" x2="307.50" y2="251.50" stroke="#6a6a6a" stroke-width="1"/>
<line x1="304.50" y1="368.50" x2="307.50" y2="368.50" stroke="#6a6a6a" stroke-width="1"/>
<line x1="304.50" y1="361.50" x2="307.50" y2="361.50" stroke="#6a6a6a" stroke-width="1"/>
<line x1="304.50" y1="354.50" x2="307.50" y2="354.50" stroke="#6a6a6a" stroke-width="1"/>
<line x1="304.50" y1="349.50" x2="307.50" y2="349.50" stroke="#6a6a6a" stroke-width="1"/>
<line x1="304.50" y1="344.50" x2="307.50" y2="344.50" stroke="#6a6a6a" stroke-width="1"/>
<line x1="319.50" y1="377.50" x2="319.50" y2="382.50" stroke="#6a6a6a" stroke-width="1"/>
<text x="0" y="0" transform="translate(319.50,392.56) scale(0.955,1)" font-size="9.24" text-anchor="middle" fill="#1e1e1e" stroke="#1e1e1e" stroke-width="0.18" >0</text>
<line x1="337.50" y1="377.50" x2="337.50" y2="382.50" stroke="#6a6a6a" stroke-width="1"/>
<text x="0" y="0" transform="translate(338.67,392.56) scale(0.955,1)" font-size="9.24" text-anchor="middle" fill="#1e1e1e" stroke="#1e1e1e" stroke-width="0.18" >0.16</text>
<line x1="355.50" y1="377.50" x2="355.50" y2="382.50" stroke="#6a6a6a" stroke-width="1"/>
<text x="0" y="0" transform="translate(356.84,392.56) scale(0.955,1)" font-size="9.24" text-anchor="middle" fill="#1e1e1e" stroke="#1e1e1e" stroke-width="0.18" >0.31</text>
<line x1="374.50" y1="377.50" x2="374.50" y2="382.50" stroke="#6a6a6a" stroke-width="1"/>
<text x="0" y="0" transform="translate(376.91,392.56) scale(0.955,1)" font-size="9.24" text-anchor="middle" fill="#1e1e1e" stroke="#1e1e1e" stroke-width="0.18" >0.63</text>
<line x1="392.50" y1="377.50" x2="392.50" y2="382.50" stroke="#6a6a6a" stroke-width="1"/>
<text x="0" y="0" transform="translate(393.18,392.56) scale(0.955,1)" font-size="9.24" text-anchor="middle" fill="#1e1e1e" stroke="#1e1e1e" stroke-width="0.18" >1.3</text>
<line x1="410.50" y1="377.50" x2="410.50" y2="382.50" stroke="#6a6a6a" stroke-width="1"/>
<text x="0" y="0" transform="translate(411.35,392.56) scale(0.955,1)" font-size="9.24" text-anchor="middle" fill="#1e1e1e" stroke="#1e1e1e" stroke-width="0.18" >2.5</text>
<line x1="428.50" y1="377.50" x2="428.50" y2="382.50" stroke="#6a6a6a" stroke-width="1"/>
<text x="0" y="0" transform="translate(428.52,392.56) scale(0.955,1)" font-size="9.24" text-anchor="middle" fill="#1e1e1e" stroke="#1e1e1e" stroke-width="0.18" >5</text>
<line x1="446.50" y1="377.50" x2="446.50" y2="382.50" stroke="#6a6a6a" stroke-width="1"/>
<text x="0" y="0" transform="translate(446.69,392.56) scale(0.955,1)" font-size="9.24" text-anchor="middle" fill="#1e1e1e" stroke="#1e1e1e" stroke-width="0.18" >10</text>
<line x1="464.50" y1="377.50" x2="464.50" y2="382.50" stroke="#6a6a6a" stroke-width="1"/>
<text x="0" y="0" transform="translate(464.86,392.56) scale(0.955,1)" font-size="9.24" text-anchor="middle" fill="#1e1e1e" stroke="#1e1e1e" stroke-width="0.18" >25</text>
<line x1="483.50" y1="377.50" x2="483.50" y2="382.50" stroke="#6a6a6a" stroke-width="1"/>
<text x="0" y="0" transform="translate(483.03,392.56) scale(0.955,1)" font-size="9.24" text-anchor="middle" fill="#1e1e1e" stroke="#1e1e1e" stroke-width="0.18" >50</text>
<line x1="501.50" y1="377.50" x2="501.50" y2="382.50" stroke="#6a6a6a" stroke-width="1"/>
<text x="0" y="0" transform="translate(501.20,392.56) scale(0.955,1)" font-size="9.24" text-anchor="middle" fill="#1e1e1e" stroke="#1e1e1e" stroke-width="0.18" >100</text>
<text x="0" y="0" transform="translate(410.35,406.59) scale(0.955,1)" font-size="10.08" text-anchor="middle" fill="#1e1e1e" stroke="#1e1e1e" stroke-width="0.18" >Exatecan (nmol/L)</text>
<text x="0" y="0" transform="translate(275.63,308.00) rotate(-90) scale(0.955,1)" font-size="10.08" text-anchor="middle" fill="#1e1e1e" stroke="#1e1e1e" stroke-width="0.18" >Cell viability (%)</text>
<polyline points="319.50,247.50 337.67,252.50 355.84,253.50 374.01,275.00 392.18,310.70 410.35,333.60 428.52,346.50 446.69,352.50 464.86,351.40 483.03,360.80 501.20,372.70" fill="none" stroke="#e4483f" stroke-width="1"/>
<polyline points="319.50,247.70 337.67,252.50 355.84,255.00 374.01,266.25 392.18,275.20 410.35,266.25 428.52,260.00 446.69,261.25 464.86,258.75 483.03,266.25 501.20,277.00" fill="none" stroke="#6c6c98" stroke-width="1"/>
<line x1="355.50" y1="249.50" x2="355.50" y2="257.50" stroke="#ec7068" stroke-width="1"/>
<line x1="351.25" y1="249.50" x2="359.75" y2="249.50" stroke="#ec7068" stroke-width="1"/>
<line x1="351.25" y1="257.50" x2="359.75" y2="257.50" stroke="#ec7068" stroke-width="1"/>
<line x1="410.50" y1="327.50" x2="410.50" y2="341.50" stroke="#ec7068" stroke-width="1"/>
<line x1="406.25" y1="327.50" x2="414.75" y2="327.50" stroke="#ec7068" stroke-width="1"/>
<line x1="406.25" y1="341.50" x2="414.75" y2="341.50" stroke="#ec7068" stroke-width="1"/>
<line x1="464.50" y1="346.50" x2="464.50" y2="356.50" stroke="#ec7068" stroke-width="1"/>
<line x1="460.25" y1="346.50" x2="468.75" y2="346.50" stroke="#ec7068" stroke-width="1"/>
<line x1="460.25" y1="356.50" x2="468.75" y2="356.50" stroke="#ec7068" stroke-width="1"/>
<line x1="483.50" y1="356.50" x2="483.50" y2="366.50" stroke="#ec7068" stroke-width="1"/>
<line x1="479.25" y1="356.50" x2="487.75" y2="356.50" stroke="#ec7068" stroke-width="1"/>
<line x1="479.25" y1="366.50" x2="487.75" y2="366.50" stroke="#ec7068" stroke-width="1"/>
<line x1="501.50" y1="366.50" x2="501.50" y2="377.50" stroke="#ec7068" stroke-width="1"/>
<line x1="497.25" y1="366.50" x2="505.75" y2="366.50" stroke="#ec7068" stroke-width="1"/>
<line x1="497.25" y1="377.50" x2="505.75" y2="377.50" stroke="#ec7068" stroke-width="1"/>
<line x1="392.50" y1="271.50" x2="392.50" y2="280.50" stroke="#8a8a8a" stroke-width="1"/>
<line x1="388.25" y1="271.50" x2="396.75" y2="271.50" stroke="#8a8a8a" stroke-width="1"/>
<line x1="388.25" y1="280.50" x2="396.75" y2="280.50" stroke="#8a8a8a" stroke-width="1"/>
<line x1="446.50" y1="255.50" x2="446.50" y2="267.50" stroke="#8a8a8a" stroke-width="1"/>
<line x1="442.25" y1="255.50" x2="450.75" y2="255.50" stroke="#8a8a8a" stroke-width="1"/>
<line x1="442.25" y1="267.50" x2="450.75" y2="267.50" stroke="#8a8a8a" stroke-width="1"/>
<circle cx="319.50" cy="247.50" r="3.73" fill="#f0302a" stroke="#d2261f" stroke-width="0.7"/>
<circle cx="337.67" cy="252.50" r="3.73" fill="#f0302a" stroke="#d2261f" stroke-width="0.7"/>
<circle cx="355.84" cy="253.50" r="3.73" fill="#f0302a" stroke="#d2261f" stroke-width="0.7"/>
<circle cx="374.01" cy="275.00" r="3.73" fill="#f0302a" stroke="#d2261f" stroke-width="0.7"/>
<circle cx="392.18" cy="310.70" r="3.73" fill="#f0302a" stroke="#d2261f" stroke-width="0.7"/>
<circle cx="410.35" cy="333.60" r="3.73" fill="#f0302a" stroke="#d2261f" stroke-width="0.7"/>
<circle cx="428.52" cy="346.50" r="3.73" fill="#f0302a" stroke="#d2261f" stroke-width="0.7"/>
<circle cx="446.69" cy="352.50" r="3.73" fill="#f0302a" stroke="#d2261f" stroke-width="0.7"/>
<circle cx="464.86" cy="351.40" r="3.73" fill="#f0302a" stroke="#d2261f" stroke-width="0.7"/>
<circle cx="483.03" cy="360.80" r="3.73" fill="#f0302a" stroke="#d2261f" stroke-width="0.7"/>
<circle cx="501.20" cy="372.70" r="3.73" fill="#f0302a" stroke="#d2261f" stroke-width="0.7"/>
<rect x="315.50" y="243.70" width="8" height="8" fill="#1c1c1c"/>
<rect x="333.67" y="248.50" width="8" height="8" fill="#1c1c1c"/>
<rect x="351.84" y="251.00" width="8" height="8" fill="#1c1c1c"/>
<rect x="370.01" y="262.25" width="8" height="8" fill="#1c1c1c"/>
<rect x="388.18" y="271.20" width="8" height="8" fill="#1c1c1c"/>
<rect x="406.35" y="262.25" width="8" height="8" fill="#1c1c1c"/>
<rect x="424.52" y="256.00" width="8" height="8" fill="#1c1c1c"/>
<rect x="442.69" y="257.25" width="8" height="8" fill="#1c1c1c"/>
<rect x="460.86" y="254.75" width="8" height="8" fill="#1c1c1c"/>
<rect x="479.03" y="262.25" width="8" height="8" fill="#1c1c1c"/>
<rect x="497.20" y="273.00" width="8" height="8" fill="#1c1c1c"/>
<line x1="313.50" y1="347.50" x2="327.50" y2="347.50" stroke="#e4483f" stroke-width="1"/>
<circle cx="320.50" cy="347.50" r="3.73" fill="#f0302a" stroke="#d2261f" stroke-width="0.7"/>
<text x="0" y="0" transform="translate(335.00,350.80) scale(1.000,1)" font-size="9.55" text-anchor="start" fill="#1a1a1a" stroke="#1a1a1a" stroke-width="0.18" >SLFN11-WT</text>
<line x1="313.50" y1="367.50" x2="327.50" y2="367.50" stroke="#474747" stroke-width="1"/>
<rect x="316.50" y="363.50" width="8" height="8" fill="#1c1c1c"/>
<text x="0" y="0" transform="translate(335.00,370.80) scale(1.000,1)" font-size="9.55" text-anchor="start" fill="#1a1a1a" stroke="#1a1a1a" stroke-width="0.18" >SLFN11-KO</text>
<text x="0" y="0" transform="translate(2.30,429.70) scale(1.000,1)" font-size="13.00" text-anchor="start" font-weight="bold" fill="#111" >E</text>
<text x="0" y="0" transform="translate(93.20,432.30) scale(1.000,1)" font-size="9.70" text-anchor="middle" font-weight="bold" fill="#111" >DT40</text>
<line x1="40.00" y1="439.50" x2="142.00" y2="439.50" stroke="#7a7a7a" stroke-width="1"/>
<line x1="39.50" y1="452.90" x2="39.50" y2="590.00" stroke="#6a6a6a" stroke-width="1"/>
<line x1="36.00" y1="589.50" x2="244.00" y2="589.50" stroke="#6a6a6a" stroke-width="1"/>
<line x1="33.50" y1="456.50" x2="39.50" y2="456.50" stroke="#6a6a6a" stroke-width="1"/>
<text x="0" y="0" transform="translate(30.30,461.01) scale(0.955,1)" font-size="9.24" text-anchor="end" fill="#1e1e1e" stroke="#1e1e1e" stroke-width="0.18" >100</text>
<line x1="33.50" y1="509.50" x2="39.50" y2="509.50" stroke="#6a6a6a" stroke-width="1"/>
<text x="0" y="0" transform="translate(30.30,513.71) scale(0.955,1)" font-size="9.24" text-anchor="end" fill="#1e1e1e" stroke="#1e1e1e" stroke-width="0.18" >10</text>
<line x1="33.50" y1="562.50" x2="39.50" y2="562.50" stroke="#6a6a6a" stroke-width="1"/>
<text x="0" y="0" transform="translate(30.30,566.41) scale(0.955,1)" font-size="9.24" text-anchor="end" fill="#1e1e1e" stroke="#1e1e1e" stroke-width="0.18" >1</text>
<line x1="36.50" y1="461.50" x2="39.50" y2="461.50" stroke="#6a6a6a" stroke-width="1"/>
<line x1="36.50" y1="467.50" x2="39.50" y2="467.50" stroke="#6a6a6a" stroke-width="1"/>
<line x1="36.50" y1="474.50" x2="39.50" y2="474.50" stroke="#6a6a6a" stroke-width="1"/>
<line x1="36.50" y1="486.50" x2="39.50" y2="486.50" stroke="#6a6a6a" stroke-width="1"/>
<line x1="36.50" y1="513.50" x2="39.50" y2="513.50" stroke="#6a6a6a" stroke-width="1"/>
<line x1="36.50" y1="519.50" x2="39.50" y2="519.50" stroke="#6a6a6a" stroke-width="1"/>
<line x1="36.50" y1="526.50" x2="39.50" y2="526.50" stroke="#6a6a6a" stroke-width="1"/>
<line x1="36.50" y1="538.50" x2="39.50" y2="538.50" stroke="#6a6a6a" stroke-width="1"/>
<line x1="36.50" y1="566.50" x2="39.50" y2="566.50" stroke="#6a6a6a" stroke-width="1"/>
<line x1="36.50" y1="572.50" x2="39.50" y2="572.50" stroke="#6a6a6a" stroke-width="1"/>
<line x1="36.50" y1="579.50" x2="39.50" y2="579.50" stroke="#6a6a6a" stroke-width="1"/>
<line x1="58.50" y1="589.50" x2="58.50" y2="594.50" stroke="#6a6a6a" stroke-width="1"/>
<text x="0" y="0" transform="translate(57.90,605.96) scale(0.955,1)" font-size="9.24" text-anchor="middle" fill="#1e1e1e" stroke="#1e1e1e" stroke-width="0.18" >0.0</text>
<line x1="86.50" y1="589.50" x2="86.50" y2="594.50" stroke="#6a6a6a" stroke-width="1"/>
<text x="0" y="0" transform="translate(85.87,605.96) scale(0.955,1)" font-size="9.24" text-anchor="middle" fill="#1e1e1e" stroke="#1e1e1e" stroke-width="0.18" >0.4</text>
<line x1="114.50" y1="589.50" x2="114.50" y2="594.50" stroke="#6a6a6a" stroke-width="1"/>
<text x="0" y="0" transform="translate(113.84,605.96) scale(0.955,1)" font-size="9.24" text-anchor="middle" fill="#1e1e1e" stroke="#1e1e1e" stroke-width="0.18" >0.8</text>
<line x1="142.50" y1="589.50" x2="142.50" y2="594.50" stroke="#6a6a6a" stroke-width="1"/>
<text x="0" y="0" transform="translate(141.81,605.96) scale(0.955,1)" font-size="9.24" text-anchor="middle" fill="#1e1e1e" stroke="#1e1e1e" stroke-width="0.18" >1.6</text>
<line x1="170.50" y1="589.50" x2="170.50" y2="594.50" stroke="#6a6a6a" stroke-width="1"/>
<text x="0" y="0" transform="translate(169.78,605.96) scale(0.955,1)" font-size="9.24" text-anchor="middle" fill="#1e1e1e" stroke="#1e1e1e" stroke-width="0.18" >3.1</text>
<line x1="198.50" y1="589.50" x2="198.50" y2="594.50" stroke="#6a6a6a" stroke-width="1"/>
<text x="0" y="0" transform="translate(197.75,605.96) scale(0.955,1)" font-size="9.24" text-anchor="middle" fill="#1e1e1e" stroke="#1e1e1e" stroke-width="0.18" >6.3</text>
<line x1="226.50" y1="589.50" x2="226.50" y2="594.50" stroke="#6a6a6a" stroke-width="1"/>
<text x="0" y="0" transform="translate(225.72,605.96) scale(0.955,1)" font-size="9.24" text-anchor="middle" fill="#1e1e1e" stroke="#1e1e1e" stroke-width="0.18" >12.5</text>
<text x="0" y="0" transform="translate(141.65,619.89) scale(0.955,1)" font-size="10.08" text-anchor="middle" fill="#1e1e1e" stroke="#1e1e1e" stroke-width="0.18" >Exatecan (nmol/L)</text>
<text x="0" y="0" transform="translate(15.13,513.50) rotate(-90) scale(0.955,1)" font-size="10.08" text-anchor="middle" fill="#1e1e1e" stroke="#1e1e1e" stroke-width="0.18" >Cell viability (%)</text>
<polyline points="58.20,456.70 86.17,465.00 114.14,474.70 142.11,506.00 170.08,555.50 198.05,567.20 226.02,583.50" fill="none" stroke="#474747" stroke-width="1"/>
<polyline points="58.20,456.70 86.17,525.60 114.14,562.30 142.11,567.80 170.08,578.60 198.05,583.10 226.02,589.50" fill="none" stroke="#e4483f" stroke-width="1"/>
<polyline points="58.20,458.50 86.17,521.00 114.14,562.90 142.11,570.60 170.08,563.20 198.05,571.20 226.02,588.80" fill="none" stroke="#5a93d0" stroke-width="1"/>
<line x1="170.50" y1="547.50" x2="170.50" y2="563.50" stroke="#474747" stroke-width="1"/>
<line x1="166.25" y1="547.50" x2="174.75" y2="547.50" stroke="#474747" stroke-width="1"/>
<line x1="166.25" y1="563.50" x2="174.75" y2="563.50" stroke="#474747" stroke-width="1"/>
<line x1="198.50" y1="562.50" x2="198.50" y2="572.50" stroke="#474747" stroke-width="1"/>
<line x1="194.25" y1="562.50" x2="202.75" y2="562.50" stroke="#474747" stroke-width="1"/>
<line x1="194.25" y1="572.50" x2="202.75" y2="572.50" stroke="#474747" stroke-width="1"/>
<line x1="142.50" y1="557.50" x2="142.50" y2="570.50" stroke="#f0948c" stroke-width="1"/>
<line x1="138.25" y1="557.50" x2="146.75" y2="557.50" stroke="#f0948c" stroke-width="1"/>
<line x1="138.25" y1="570.50" x2="146.75" y2="570.50" stroke="#f0948c" stroke-width="1"/>
<line x1="86.50" y1="515.50" x2="86.50" y2="528.50" stroke="#90aed0" stroke-width="1"/>
<line x1="82.25" y1="515.50" x2="90.75" y2="515.50" stroke="#90aed0" stroke-width="1"/>
<line x1="82.25" y1="528.50" x2="90.75" y2="528.50" stroke="#90aed0" stroke-width="1"/>
<line x1="114.50" y1="554.50" x2="114.50" y2="573.50" stroke="#90aed0" stroke-width="1"/>
<line x1="110.25" y1="554.50" x2="118.75" y2="554.50" stroke="#90aed0" stroke-width="1"/>
<line x1="110.25" y1="573.50" x2="118.75" y2="573.50" stroke="#90aed0" stroke-width="1"/>
<line x1="142.50" y1="563.50" x2="142.50" y2="583.50" stroke="#90aed0" stroke-width="1"/>
<line x1="138.25" y1="563.50" x2="146.75" y2="563.50" stroke="#90aed0" stroke-width="1"/>
<line x1="138.25" y1="583.50" x2="146.75" y2="583.50" stroke="#90aed0" stroke-width="1"/>
<circle cx="58.20" cy="456.70" r="4.00" fill="#1c1c1c"/>
<circle cx="86.17" cy="465.00" r="4.00" fill="#1c1c1c"/>
<circle cx="114.14" cy="474.70" r="4.00" fill="#1c1c1c"/>
<circle cx="142.11" cy="506.00" r="4.00" fill="#1c1c1c"/>
<circle cx="170.08" cy="555.50" r="4.00" fill="#1c1c1c"/>
<circle cx="198.05" cy="567.20" r="4.00" fill="#1c1c1c"/>
<circle cx="226.02" cy="574.70" r="4.00" fill="#1c1c1c"/>
<rect x="54.20" y="452.70" width="8" height="8" fill="#e8302a"/>
<rect x="82.17" y="521.60" width="8" height="8" fill="#e8302a"/>
<rect x="110.14" y="558.30" width="8" height="8" fill="#e8302a"/>
<rect x="138.11" y="563.80" width="8" height="8" fill="#e8302a"/>
<rect x="166.08" y="574.60" width="8" height="8" fill="#e8302a"/>
<rect x="194.05" y="579.10" width="8" height="8" fill="#e8302a"/>
<rect x="222.02" y="577.70" width="8" height="8" fill="#e8302a"/>
<path d="M58.20,454.00 L62.50,462.00 L53.90,462.00Z" fill="#3f78be"/>
<path d="M86.17,516.50 L90.47,524.50 L81.87,524.50Z" fill="#3f78be"/>
<path d="M114.14,558.40 L118.44,566.40 L109.84,566.40Z" fill="#3f78be"/>
<path d="M142.11,566.10 L146.41,574.10 L137.81,574.10Z" fill="#3f78be"/>
<path d="M170.08,558.70 L174.38,566.70 L165.78,566.70Z" fill="#3f78be"/>
<path d="M198.05,566.70 L202.35,574.70 L193.75,574.70Z" fill="#3f78be"/>
<path d="M226.02,578.40 L230.32,586.40 L221.72,586.40Z" fill="#3f78be"/>
<line x1="153.50" y1="440.50" x2="167.50" y2="440.50" stroke="#474747" stroke-width="1"/>
<circle cx="160.50" cy="440.60" r="4.00" fill="#1c1c1c"/>
<text x="0" y="0" transform="translate(171.30,443.90) scale(1.000,1)" font-size="9.55" text-anchor="start" fill="#1a1a1a" stroke="#1a1a1a" stroke-width="0.18" >DT40: WT</text>
<line x1="153.70" y1="459.50" x2="167.70" y2="459.50" stroke="#e4483f" stroke-width="1"/>
<rect x="156.70" y="455.40" width="8" height="8" fill="#e8302a"/>
<text x="0" y="0" transform="translate(171.30,462.70) scale(1.000,1)" font-size="9.55" text-anchor="start" fill="#1a1a1a" stroke="#1a1a1a" stroke-width="0.18" >DT40: BRCA1-KO</text>
<line x1="153.70" y1="479.50" x2="167.70" y2="479.50" stroke="#5a93d0" stroke-width="1"/>
<path d="M160.70,474.50 L165.00,482.50 L156.40,482.50Z" fill="#3f78be"/>
<text x="0" y="0" transform="translate(171.30,482.30) scale(1.000,1)" font-size="9.55" text-anchor="start" fill="#1a1a1a" stroke="#1a1a1a" stroke-width="0.18" >DT40: BRCA2-KO</text>
<text x="0" y="0" transform="translate(275.90,429.90) scale(1.000,1)" font-size="13.00" text-anchor="start" font-weight="bold" fill="#111" >F</text>
<line x1="305.50" y1="452.20" x2="305.50" y2="590.00" stroke="#6a6a6a" stroke-width="1"/>
<line x1="302.00" y1="589.50" x2="511.60" y2="589.50" stroke="#6a6a6a" stroke-width="1"/>
<line x1="299.50" y1="462.50" x2="305.50" y2="462.50" stroke="#6a6a6a" stroke-width="1"/>
<text x="0" y="0" transform="translate(295.10,465.91) scale(0.955,1)" font-size="9.24" text-anchor="end" fill="#1e1e1e" stroke="#1e1e1e" stroke-width="0.18" >100</text>
<line x1="299.50" y1="589.50" x2="305.50" y2="589.50" stroke="#6a6a6a" stroke-width="1"/>
<text x="0" y="0" transform="translate(296.30,593.41) scale(0.955,1)" font-size="9.24" text-anchor="end" fill="#1e1e1e" stroke="#1e1e1e" stroke-width="0.18" >10</text>
<line x1="302.50" y1="550.50" x2="305.50" y2="550.50" stroke="#6a6a6a" stroke-width="1"/>
<line x1="302.50" y1="528.50" x2="305.50" y2="528.50" stroke="#6a6a6a" stroke-width="1"/>
<line x1="302.50" y1="512.50" x2="305.50" y2="512.50" stroke="#6a6a6a" stroke-width="1"/>
<line x1="302.50" y1="500.50" x2="305.50" y2="500.50" stroke="#6a6a6a" stroke-width="1"/>
<line x1="302.50" y1="490.50" x2="305.50" y2="490.50" stroke="#6a6a6a" stroke-width="1"/>
<line x1="302.50" y1="482.50" x2="305.50" y2="482.50" stroke="#6a6a6a" stroke-width="1"/>
<line x1="302.50" y1="474.50" x2="305.50" y2="474.50" stroke="#6a6a6a" stroke-width="1"/>
<line x1="302.50" y1="468.50" x2="305.50" y2="468.50" stroke="#6a6a6a" stroke-width="1"/>
<line x1="320.50" y1="589.50" x2="320.50" y2="594.50" stroke="#6a6a6a" stroke-width="1"/>
<text x="0" y="0" transform="translate(320.50,606.06) scale(0.955,1)" font-size="9.24" text-anchor="middle" fill="#1e1e1e" stroke="#1e1e1e" stroke-width="0.18" >0</text>
<line x1="342.50" y1="589.50" x2="342.50" y2="594.50" stroke="#6a6a6a" stroke-width="1"/>
<text x="0" y="0" transform="translate(343.48,606.06) scale(0.955,1)" font-size="9.24" text-anchor="middle" fill="#1e1e1e" stroke="#1e1e1e" stroke-width="0.18" >0.78</text>
<line x1="364.50" y1="589.50" x2="364.50" y2="594.50" stroke="#6a6a6a" stroke-width="1"/>
<text x="0" y="0" transform="translate(365.45,606.06) scale(0.955,1)" font-size="9.24" text-anchor="middle" fill="#1e1e1e" stroke="#1e1e1e" stroke-width="0.18" >1.56</text>
<line x1="386.50" y1="589.50" x2="386.50" y2="594.50" stroke="#6a6a6a" stroke-width="1"/>
<text x="0" y="0" transform="translate(388.93,606.06) scale(0.955,1)" font-size="9.24" text-anchor="middle" fill="#1e1e1e" stroke="#1e1e1e" stroke-width="0.18" >3.13</text>
<line x1="408.50" y1="589.50" x2="408.50" y2="594.50" stroke="#6a6a6a" stroke-width="1"/>
<text x="0" y="0" transform="translate(409.40,606.06) scale(0.955,1)" font-size="9.24" text-anchor="middle" fill="#1e1e1e" stroke="#1e1e1e" stroke-width="0.18" >6.25</text>
<line x1="430.50" y1="589.50" x2="430.50" y2="594.50" stroke="#6a6a6a" stroke-width="1"/>
<text x="0" y="0" transform="translate(431.38,606.06) scale(0.955,1)" font-size="9.24" text-anchor="middle" fill="#1e1e1e" stroke="#1e1e1e" stroke-width="0.18" >12.5</text>
<line x1="452.50" y1="589.50" x2="452.50" y2="594.50" stroke="#6a6a6a" stroke-width="1"/>
<text x="0" y="0" transform="translate(452.35,606.06) scale(0.955,1)" font-size="9.24" text-anchor="middle" fill="#1e1e1e" stroke="#1e1e1e" stroke-width="0.18" >25</text>
<line x1="474.50" y1="589.50" x2="474.50" y2="594.50" stroke="#6a6a6a" stroke-width="1"/>
<text x="0" y="0" transform="translate(474.33,606.06) scale(0.955,1)" font-size="9.24" text-anchor="middle" fill="#1e1e1e" stroke="#1e1e1e" stroke-width="0.18" >50</text>
<line x1="496.50" y1="589.50" x2="496.50" y2="594.50" stroke="#6a6a6a" stroke-width="1"/>
<text x="0" y="0" transform="translate(498.30,606.06) scale(0.955,1)" font-size="9.24" text-anchor="middle" fill="#1e1e1e" stroke="#1e1e1e" stroke-width="0.18" >100</text>
<text x="0" y="0" transform="translate(408.55,619.29) scale(0.955,1)" font-size="10.08" text-anchor="middle" fill="#1e1e1e" stroke="#1e1e1e" stroke-width="0.18" >Exatecan (nmol/L)</text>
<text x="0" y="0" transform="translate(276.43,519.60) rotate(-90) scale(0.955,1)" font-size="10.08" text-anchor="middle" fill="#1e1e1e" stroke="#1e1e1e" stroke-width="0.18" >Cell viability (%)</text>
<polyline points="320.50,462.50 342.48,480.60 364.45,497.80 386.43,520.50 408.40,535.00 430.38,549.20 452.35,553.80 474.33,567.50 496.30,581.00" fill="none" stroke="#e4483f" stroke-width="1"/>
<polyline points="320.50,462.80 342.48,467.20 364.45,474.50 386.43,479.50 408.40,489.50 430.38,509.40 452.35,523.70 474.33,536.30 496.30,551.90" fill="none" stroke="#474747" stroke-width="1"/>
<line x1="320.50" y1="456.50" x2="320.50" y2="469.50" stroke="#ec7068" stroke-width="1"/>
<line x1="316.25" y1="456.50" x2="324.75" y2="456.50" stroke="#ec7068" stroke-width="1"/>
<line x1="316.25" y1="469.50" x2="324.75" y2="469.50" stroke="#ec7068" stroke-width="1"/>
<line x1="342.50" y1="476.50" x2="342.50" y2="485.50" stroke="#ec7068" stroke-width="1"/>
<line x1="338.25" y1="476.50" x2="346.75" y2="476.50" stroke="#ec7068" stroke-width="1"/>
<line x1="338.25" y1="485.50" x2="346.75" y2="485.50" stroke="#ec7068" stroke-width="1"/>
<line x1="364.50" y1="492.50" x2="364.50" y2="502.50" stroke="#ec7068" stroke-width="1"/>
<line x1="360.25" y1="492.50" x2="368.75" y2="492.50" stroke="#ec7068" stroke-width="1"/>
<line x1="360.25" y1="502.50" x2="368.75" y2="502.50" stroke="#ec7068" stroke-width="1"/>
<line x1="386.50" y1="515.50" x2="386.50" y2="527.50" stroke="#ec7068" stroke-width="1"/>
<line x1="382.25" y1="515.50" x2="390.75" y2="515.50" stroke="#ec7068" stroke-width="1"/>
<line x1="382.25" y1="527.50" x2="390.75" y2="527.50" stroke="#ec7068" stroke-width="1"/>
<line x1="408.50" y1="527.50" x2="408.50" y2="542.50" stroke="#ec7068" stroke-width="1"/>
<line x1="404.25" y1="527.50" x2="412.75" y2="527.50" stroke="#ec7068" stroke-width="1"/>
<line x1="404.25" y1="542.50" x2="412.75" y2="542.50" stroke="#ec7068" stroke-width="1"/>
<line x1="430.50" y1="542.50" x2="430.50" y2="556.50" stroke="#ec7068" stroke-width="1"/>
<line x1="426.25" y1="542.50" x2="434.75" y2="542.50" stroke="#ec7068" stroke-width="1"/>
<line x1="426.25" y1="556.50" x2="434.75" y2="556.50" stroke="#ec7068" stroke-width="1"/>
<line x1="452.50" y1="546.50" x2="452.50" y2="562.50" stroke="#ec7068" stroke-width="1"/>
<line x1="448.25" y1="546.50" x2="456.75" y2="546.50" stroke="#ec7068" stroke-width="1"/>
<line x1="448.25" y1="562.50" x2="456.75" y2="562.50" stroke="#ec7068" stroke-width="1"/>
<line x1="496.50" y1="566.50" x2="496.50" y2="577.50" stroke="#ec7068" stroke-width="1"/>
<line x1="492.25" y1="566.50" x2="500.75" y2="566.50" stroke="#ec7068" stroke-width="1"/>
<line x1="492.25" y1="577.50" x2="500.75" y2="577.50" stroke="#ec7068" stroke-width="1"/>
<line x1="364.50" y1="468.50" x2="364.50" y2="480.50" stroke="#474747" stroke-width="1"/>
<line x1="360.25" y1="468.50" x2="368.75" y2="468.50" stroke="#474747" stroke-width="1"/>
<line x1="360.25" y1="480.50" x2="368.75" y2="480.50" stroke="#474747" stroke-width="1"/>
<line x1="386.50" y1="471.50" x2="386.50" y2="488.50" stroke="#474747" stroke-width="1"/>
<line x1="382.25" y1="471.50" x2="390.75" y2="471.50" stroke="#474747" stroke-width="1"/>
<line x1="382.25" y1="488.50" x2="390.75" y2="488.50" stroke="#474747" stroke-width="1"/>
<line x1="408.50" y1="477.50" x2="408.50" y2="504.50" stroke="#474747" stroke-width="1"/>
<line x1="404.25" y1="477.50" x2="412.75" y2="477.50" stroke="#474747" stroke-width="1"/>
<line x1="404.25" y1="504.50" x2="412.75" y2="504.50" stroke="#474747" stroke-width="1"/>
<line x1="430.50" y1="500.50" x2="430.50" y2="519.50" stroke="#474747" stroke-width="1"/>
<line x1="426.25" y1="500.50" x2="434.75" y2="500.50" stroke="#474747" stroke-width="1"/>
<line x1="426.25" y1="519.50" x2="434.75" y2="519.50" stroke="#474747" stroke-width="1"/>
<line x1="452.50" y1="512.50" x2="452.50" y2="538.50" stroke="#474747" stroke-width="1"/>
<line x1="448.25" y1="512.50" x2="456.75" y2="512.50" stroke="#474747" stroke-width="1"/>
<line x1="448.25" y1="538.50" x2="456.75" y2="538.50" stroke="#474747" stroke-width="1"/>
<line x1="474.50" y1="524.50" x2="474.50" y2="552.50" stroke="#474747" stroke-width="1"/>
<line x1="470.25" y1="524.50" x2="478.75" y2="524.50" stroke="#474747" stroke-width="1"/>
<line x1="470.25" y1="552.50" x2="478.75" y2="552.50" stroke="#474747" stroke-width="1"/>
<line x1="496.50" y1="539.50" x2="496.50" y2="566.50" stroke="#474747" stroke-width="1"/>
<line x1="492.25" y1="539.50" x2="500.75" y2="539.50" stroke="#474747" stroke-width="1"/>
<line x1="492.25" y1="566.50" x2="500.75" y2="566.50" stroke="#474747" stroke-width="1"/>
<rect x="316.50" y="458.50" width="8" height="8" fill="#e8302a"/>
<rect x="338.48" y="476.60" width="8" height="8" fill="#e8302a"/>
<rect x="360.45" y="493.80" width="8" height="8" fill="#e8302a"/>
<rect x="382.43" y="516.50" width="8" height="8" fill="#e8302a"/>
<rect x="404.40" y="531.00" width="8" height="8" fill="#e8302a"/>
<rect x="426.38" y="545.20" width="8" height="8" fill="#e8302a"/>
<rect x="448.35" y="549.80" width="8" height="8" fill="#e8302a"/>
<rect x="470.33" y="563.50" width="8" height="8" fill="#e8302a"/>
<rect x="492.30" y="577.00" width="8" height="8" fill="#e8302a"/>
<circle cx="320.50" cy="462.80" r="4.00" fill="#1c1c1c"/>
<circle cx="342.48" cy="467.20" r="4.00" fill="#1c1c1c"/>
<circle cx="364.45" cy="474.50" r="4.00" fill="#1c1c1c"/>
<circle cx="386.43" cy="479.50" r="4.00" fill="#1c1c1c"/>
<circle cx="408.40" cy="489.50" r="4.00" fill="#1c1c1c"/>
<circle cx="430.38" cy="509.40" r="4.00" fill="#1c1c1c"/>
<circle cx="452.35" cy="523.70" r="4.00" fill="#1c1c1c"/>
<circle cx="474.33" cy="536.30" r="4.00" fill="#1c1c1c"/>
<circle cx="496.30" cy="551.90" r="4.00" fill="#1c1c1c"/>
<line x1="420.50" y1="442.50" x2="434.50" y2="442.50" stroke="#474747" stroke-width="1"/>
<circle cx="427.50" cy="442.00" r="4.00" fill="#1c1c1c"/>
<text x="0" y="0" transform="translate(437.00,445.30) scale(1.000,1)" font-size="9.55" text-anchor="start" fill="#1a1a1a" stroke="#1a1a1a" stroke-width="0.18" >UWB1.289+BRCA1</text>
<line x1="420.50" y1="458.50" x2="434.50" y2="458.50" stroke="#e4483f" stroke-width="1"/>
<rect x="423.50" y="454.75" width="8" height="8" fill="#e8302a"/>
<text x="0" y="0" transform="translate(437.00,462.05) scale(1.000,1)" font-size="9.55" text-anchor="start" fill="#1a1a1a" stroke="#1a1a1a" stroke-width="0.18" >UWB1.289</text>
</svg></body></html>
